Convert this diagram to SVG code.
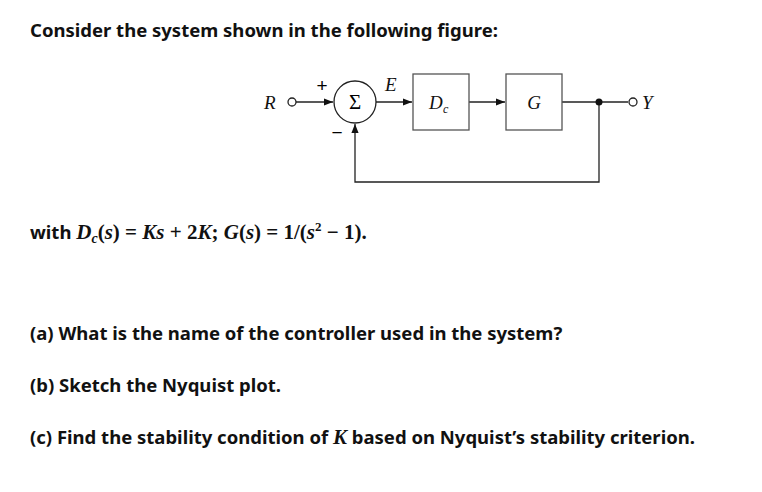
<svg xmlns="http://www.w3.org/2000/svg" width="762" height="492" viewBox="0 0 762 492" xml:space="preserve">
<defs>
<style>
.t{font-family:"Noto Sans","Liberation Sans",sans-serif;font-weight:bold;font-size:18.5px;fill:#111}
.m{font-family:"Liberation Serif",serif;font-weight:bold;font-style:italic;font-size:21px;fill:#111}
.n{font-family:"Liberation Serif",serif;font-weight:bold;font-size:21px;fill:#111}
.d{font-family:"Liberation Serif",serif;font-style:italic;font-size:19px;fill:#111}
.l{stroke:#222;stroke-width:1.3;fill:none}
.b{stroke:#555;stroke-width:1.3;fill:#fff}
</style>
<marker id="a" viewBox="0 0 10 10" refX="10" refY="5" markerWidth="7" markerHeight="7" orient="auto"><path d="M0,1L10,5L0,9z" fill="#111"/></marker>
</defs>
<rect width="762" height="492" fill="#fff"/>
<text class="t" x="30" y="37">Consider the system shown in the following figure:</text>
<g id="connectors">
<line class="l" x1="296" y1="102" x2="333" y2="102" marker-end="url(#a)"/>
<line class="l" x1="376" y1="102" x2="412" y2="102" marker-end="url(#a)"/>
<line class="l" x1="469" y1="102" x2="505" y2="102" marker-end="url(#a)"/>
<line class="l" x1="562" y1="102" x2="628" y2="102"/>
<polyline class="l" points="599,102 599,182 355,182 355,124" marker-end="url(#a)"/>
</g>
<g id="R"><circle class="l" cx="292" cy="102" r="4"/><text class="d" x="264" y="109">R</text></g>
<g id="sum"><circle class="l" cx="355" cy="102" r="21"/><text x="355" y="109" text-anchor="middle" style="font-family:'Liberation Serif',serif;font-size:21px">Σ</text>
<text x="322" y="92" text-anchor="middle" style="font-family:'Liberation Sans',sans-serif;font-size:19px">+</text>
<text x="337" y="139" text-anchor="middle" style="font-family:'Liberation Sans',sans-serif;font-size:19px">−</text></g>
<text class="d" x="385" y="91">E</text>
<g id="Dc"><rect class="b" x="413" y="74" width="56" height="56"/><text class="d" x="429" y="109">D</text><text class="d" x="443" y="113" style="font-size:12px">c</text></g>
<g id="G"><rect class="b" x="506" y="74" width="56" height="56"/><text class="d" x="534" y="109" text-anchor="middle">G</text></g>
<g id="junction"><circle cx="599" cy="102" r="3.5" fill="#111"/></g>
<g id="Y"><circle class="l" cx="633" cy="102" r="4" fill="#fff"/><text class="d" x="642" y="109">Y</text></g>
<text x="30" y="239"><tspan class="t">with  </tspan><tspan class="m">D</tspan><tspan class="m" style="font-size:14px" dy="4">c</tspan><tspan class="n" dy="-4">(</tspan><tspan class="m">s</tspan><tspan class="n">) = </tspan><tspan class="m">Ks</tspan><tspan class="n"> + 2</tspan><tspan class="m">K</tspan><tspan class="n">;  </tspan><tspan class="m">G</tspan><tspan class="n">(</tspan><tspan class="m">s</tspan><tspan class="n">) = 1/(</tspan><tspan class="m">s</tspan><tspan class="n" style="font-size:13px" dy="-8">2</tspan><tspan class="n" dy="8"> − 1).</tspan></text>
<text class="t" x="30" y="340">(a) What is the name of the controller used in the system?</text>
<text class="t" x="30" y="392">(b) Sketch the Nyquist plot.</text>
<text x="30" y="444"><tspan class="t">(c) Find the stability condition of </tspan><tspan class="m">K</tspan><tspan class="t">  based on Nyquist’s stability criterion.</tspan></text>
</svg>
